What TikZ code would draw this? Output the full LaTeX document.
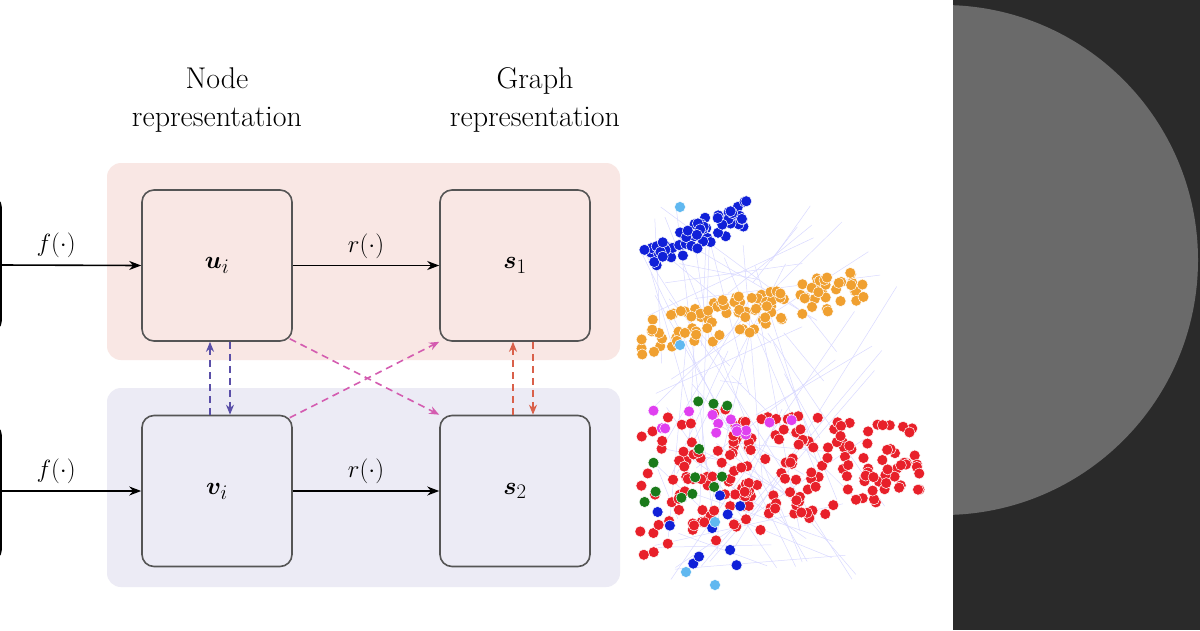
\documentclass[tikz,border=0pt]{standalone}
\usepackage{amsmath,bm}
\usetikzlibrary{arrows.meta}
\begin{document}
\definecolor{pinkbg}{HTML}{F9E7E4}
\definecolor{bluebg}{HTML}{ECEBF5}
\definecolor{boxline}{HTML}{555555}
\definecolor{purp}{HTML}{5A4FA8}
\definecolor{mag}{HTML}{D45CB0}
\definecolor{ored}{HTML}{D9604A}
\definecolor{dark}{HTML}{2A2A2A}
\definecolor{mid}{HTML}{6A6A6A}
\definecolor{dblue}{HTML}{1020D8}
\definecolor{dorange}{HTML}{F0A030}
\definecolor{dred}{HTML}{E8202A}
\definecolor{dmag}{HTML}{E040F0}
\definecolor{dgreen}{HTML}{1A7A1A}
\definecolor{dsky}{HTML}{60B8F0}
\begin{tikzpicture}[x=1pt,y=-1pt,
  box/.style={draw=boxline,line width=1.6pt,rounded corners=12pt,minimum width=150pt,minimum height=151pt,inner sep=0pt},
  panel/.style={rounded corners=14pt},
  solidarr/.style={-{Stealth[length=12pt,width=9pt]},line width=1.6pt},
  dasharr/.style={-{Stealth[length=10pt,width=8pt]},line width=1.6pt,dash pattern=on 7pt off 5pt},
  lbl/.style={font=\fontsize{30}{34}\selectfont},
  dot/.style={circle,inner sep=0pt,minimum size=11pt,draw=white,line width=0.5pt}]
\useasboundingbox (0,0) rectangle (1200,630);
\fill[white] (0,0) rectangle (1200,630);
% right dark area
\fill[dark] (953,0) rectangle (1200,630);
\begin{scope}
\clip (953,0) rectangle (1200,630);
\fill[mid] (943,260) circle (255);
\end{scope}
% scatter
\begin{scope}
\clip (635,165) rectangle (945,600);
\pgfmathsetseed{7}
\foreach \i in {1,...,70}{\pgfmathsetmacro\ax{650+250*rnd}\pgfmathsetmacro\ay{200+380*rnd}\pgfmathsetmacro\bx{640+200*rnd}\pgfmathsetmacro\by{200+380*rnd}
 \draw[blue!15,line width=0.5pt] (\ax,\ay) -- (\bx,\by);}
\foreach \i in {1,...,60}{\pgfmathsetmacro\px{640+100*rnd+15*rnd}\pgfmathsetmacro\py{250-0.5*(\px-640)+30*rnd}
 \node[dot,fill=dblue] at (\px,\py) {};}
\foreach \i in {1,...,110}{\pgfmathsetmacro\px{640+225*rnd}\pgfmathsetmacro\py{330-0.25*(\px-640)+40*rnd-10}
 \node[dot,fill=dorange] at (\px,\py) {};}
\foreach \i in {1,...,200}{\pgfmathsetmacro\px{640+280*rnd}\pgfmathsetmacro\py{400+160*rnd*(1-0.6*(\px-640)/280)+0.1*(\px-640)}
 \node[dot,fill=dred] at (\px,\py) {};}
\foreach \i in {1,...,14}{\pgfmathsetmacro\px{640+180*rnd}\pgfmathsetmacro\py{405+30*rnd}
 \node[dot,fill=dmag] at (\px,\py) {};}
\foreach \i in {1,...,12}{\pgfmathsetmacro\px{640+100*rnd}\pgfmathsetmacro\py{390+120*rnd}
 \node[dot,fill=dgreen] at (\px,\py) {};}
\foreach \i in {1,...,10}{\pgfmathsetmacro\px{640+120*rnd}\pgfmathsetmacro\py{480+100*rnd}
 \node[dot,fill=dblue] at (\px,\py) {};}
\foreach \p in {(680,207),(680,345),(715,585),(686,572),(715,522)}
 \node[dot,fill=dsky] at \p {};
\end{scope}
% panels
\fill[pinkbg,panel] (107,163) rectangle (620,360);
\fill[bluebg,panel] (107,388) rectangle (620,587);
% left partial boxes
\draw[line width=1.6pt,rounded corners=10pt] (-30,197) -- (1,197) -- (1,331) -- (-30,331);
\draw[line width=1.6pt,rounded corners=10pt] (-30,425) -- (1,425) -- (1,560) -- (-30,560);
\coordinate (lu) at (1,265);
\coordinate (lv) at (1,491);
% boxes
\node[box,fill=pinkbg] (u) at (217,265.5) {\fontsize{30}{34}\selectfont$\bm{u}_i$};
\node[box,fill=pinkbg] (s1) at (515,265.5) {\fontsize{30}{34}\selectfont$\bm{s}_1$};
\node[box,fill=bluebg] (v) at (217,491) {\fontsize{30}{34}\selectfont$\bm{v}_i$};
\node[box,fill=bluebg] (s2) at (515,491) {\fontsize{30}{34}\selectfont$\bm{s}_2$};
% headers
\node[lbl,align=center] (h1) at (217,100) {Node\\[4pt]representation};
\node[lbl,align=center] (h2) at (535,100) {Graph\\[4pt]representation};
% solid arrows
\draw[solidarr] (lu) -- node[lbl,above=3pt,xshift=-15pt]{$f(\cdot)$} (u.west);
\draw[solidarr] (lv) -- node[lbl,above=3pt,xshift=-15pt]{$f(\cdot)$} (v.west);
\draw[solidarr] (u.east) -- node[lbl,above=3pt]{$r(\cdot)$} (s1.west);
\draw[solidarr] (v.east) -- node[lbl,above=3pt]{$r(\cdot)$} (s2.west);
% dashed
\draw[dasharr,purp] ([xshift=-7pt]v.north) -- ([xshift=-7pt]u.south);
\draw[dasharr,purp] ([xshift=13pt]u.south) -- ([xshift=13pt]v.north);
\draw[dasharr,ored] ([xshift=-2pt]s2.north) -- ([xshift=-2pt]s1.south);
\draw[dasharr,ored] ([xshift=18pt]s1.south) -- ([xshift=18pt]s2.north);
\draw[dasharr,mag] ([shift={(-3pt,3pt)}]u.south east) -- (s2.north west);
\draw[dasharr,mag] ([shift={(-3pt,-3pt)}]v.north east) -- (s1.south west);
\end{tikzpicture}
\end{document}
